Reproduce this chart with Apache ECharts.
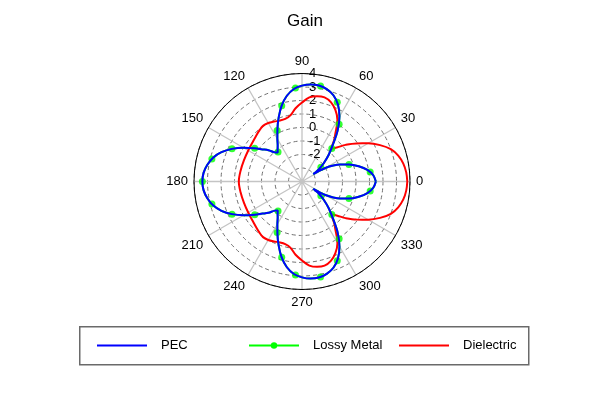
<!DOCTYPE html>
<html>
<head>
<meta charset="utf-8">
<script src="https://cdn.jsdelivr.net/npm/echarts@6/dist/echarts.min.js"></script>
<style>
  html, body { margin: 0; padding: 0; background: #fff; }
  #chart { width: 610px; height: 405px; }
</style>
</head>
<body>
<div id="chart"></div>
<script>
// angle in degrees, gain in dB
var pecAngle = [0, 5, 10, 15, 20, 24, 27, 30, 32, 33, 34, 36, 40, 45, 50, 55, 60, 65, 70, 75, 80, 85, 90,
    95, 100, 105, 110, 115, 120, 124, 127, 130, 133, 137, 141, 145, 150, 155, 160, 165, 170, 175, 180,
    185, 190, 195, 200, 205, 210, 215, 219, 223, 227, 230, 233, 236, 240, 245, 250, 255, 260, 265, 270,
    275, 280, 285, 290, 295, 300, 305, 310, 315, 320, 324, 326, 327, 328, 330, 333, 336, 340, 345, 350, 355, 360];
var pecGain = [1.47, 1.3, 0.92, 0.35, -0.3, -0.9, -1.4, -2.0, -2.6, -3.0, -2.85, -2.45, -1.9, -1.2, -0.45, 0.6, 1.55, 2.3, 2.8, 3.08, 3.22, 3.22, 3.1,
    2.88, 2.45, 1.82, 1.05, 0.3, -0.35, -0.78, -1.0, -1.2, -1.05, -0.6, -0.22, 0.28, 1.0, 1.72, 2.35, 2.82, 3.12, 3.32, 3.38,
    3.32, 3.12, 2.82, 2.35, 1.72, 1.0, 0.28, -0.22, -0.6, -1.05, -1.2, -1.0, -0.78, -0.35, 0.3, 1.05, 1.82, 2.45, 2.88, 3.1,
    3.22, 3.22, 3.08, 2.8, 2.3, 1.55, 0.6, -0.45, -1.2, -1.9, -2.45, -2.85, -3.0, -2.6, -2.0, -1.4, -0.9, -0.3, 0.35, 0.92, 1.3, 1.47];

// lossy metal: same trace as PEC, markers where they show
var lossyAngle = [8, 20, 37, 48, 57, 66, 79, 94, 105, 116, 129, 145, 155, 166, 180,
    194, 205, 215, 231, 244, 255, 266, 281, 294, 303, 312, 323, 340, 352];
var lossyGain = [1.1, -0.3, -2.25, -0.7, 1.05, 2.42, 3.2, 2.95, 1.8, 0.2, -1.18, 0.28, 1.72, 2.88, 3.38,
    2.88, 1.72, 0.28, -1.18, 0.2, 1.8, 2.95, 3.2, 2.42, 1.05, -0.7, -2.25, -0.3, 1.1];

var dielAngle = [0, 5, 10, 15, 20, 25, 30, 35, 40, 44, 48.5, 52, 55, 60, 65, 70, 75, 80, 85, 90, 95, 100,
    105, 110, 115, 120, 125, 130, 135, 140, 150, 160, 170, 180,
    190, 200, 210, 220, 225, 230, 235, 240, 245, 250, 255, 260, 265, 270, 275, 280, 285, 290, 295, 300,
    305, 308, 311.5, 316, 320, 325, 330, 335, 340, 345, 350, 355, 360];
var dielGain = [3.8, 3.75, 3.62, 3.38, 3.0, 2.38, 1.65, 0.92, 0.22, -0.35, -0.8, -0.15, 0.3, 1.25, 1.85, 2.25, 2.45, 2.42, 2.25, 1.85, 1.45, 0.97,
    0.8, 0.8, 0.9, 1.0, 1.03, 0.92, 0.8, 0.7, 0.6, 0.58, 0.62, 0.68,
    0.62, 0.58, 0.6, 0.7, 0.8, 0.92, 1.03, 1.0, 0.9, 0.8, 0.8, 0.97, 1.45, 1.85, 2.25, 2.42, 2.45, 2.25, 1.85, 1.25,
    0.3, -0.15, -0.8, -0.35, 0.22, 0.92, 1.65, 2.38, 3.0, 3.38, 3.62, 3.75, 3.8];

function pairs(angles, gains) {
    var out = [];
    for (var i = 0; i < angles.length; i++) {
        out.push([gains[i], angles[i]]);
    }
    return out;
}

var font = 'Liberation Sans, Arial, sans-serif';
var legendText = { fontFamily: font, fontSize: 13, color: '#000', padding: [0, 0, 0, 9] };
var chart = echarts.init(document.getElementById('chart'));

var option = {
    animation: false,
    backgroundColor: '#fff',
    title: {
        text: 'Gain',
        left: 'center',
        top: 8,
        textStyle: { fontFamily: font, fontSize: 17, fontWeight: 'normal', color: '#000' }
    },
    polar: {
        center: [302, 181.5],
        radius: 108
    },
    angleAxis: {
        type: 'value',
        min: 90,
        max: 450,
        interval: 30,
        startAngle: 90,
        clockwise: false,
        axisLine: { lineStyle: { color: '#000', width: 1 } },
        axisTick: { show: false },
        axisLabel: {
            margin: 6,
            color: '#000',
            fontFamily: font,
            fontSize: 13,
            formatter: function (v) { return v >= 450 ? '' : String(v % 360); }
        },
        splitLine: { lineStyle: { color: '#c4c4c4', width: 1.3 } }
    },
    radiusAxis: {
        type: 'value',
        min: -4,
        max: 4,
        interval: 1,
        axisLine: { show: false },
        axisTick: { show: false },
        axisLabel: {
            margin: -7,
            align: 'left',
            padding: [4, 0, 0, 0],
            color: '#000',
            fontFamily: font,
            fontSize: 13,
            formatter: function (v) { return v < -2 ? '' : String(v); }
        },
        splitLine: { lineStyle: { color: '#707070', type: [4, 3], width: 1 } }
    },
    legend: [
        { data: ['PEC'], left: 97, top: 339, padding: 0, icon: 'rect', itemWidth: 50, itemHeight: 2, textStyle: legendText },
        { data: ['Lossy Metal'], left: 248, top: 339, padding: 0, itemWidth: 50, itemHeight: 8, textStyle: legendText },
        { data: ['Dielectric'], left: 399, top: 339, padding: 0, icon: 'rect', itemWidth: 50, itemHeight: 2, textStyle: legendText }
    ],
    graphic: [{
        type: 'rect',
        left: 79,
        top: 326,
        shape: { width: 449, height: 38 },
        style: { fill: '#fff', stroke: '#6a6a6a', lineWidth: 1.5 },
        z: -1
    }],
    series: [
        {
            name: 'Dielectric',
            type: 'line',
            coordinateSystem: 'polar',
            data: pairs(dielAngle, dielGain),
            symbol: 'none',
            smooth: 0.35,
            color: '#ff0000',
            lineStyle: { width: 2 },
            z: 2
        },
        {
            name: 'Lossy Metal',
            type: 'line',
            coordinateSystem: 'polar',
            data: pairs(pecAngle, pecGain),
            symbol: 'circle',
            showSymbol: false,
            smooth: 0.35,
            color: '#00ff00',
            lineStyle: { width: 2 },
            z: 3
        },
        {
            name: 'Lossy Metal',
            type: 'scatter',
            coordinateSystem: 'polar',
            data: pairs(lossyAngle, lossyGain),
            symbol: 'circle',
            symbolSize: 7,
            color: '#00ff00',
            z: 3
        },
        {
            name: 'PEC',
            type: 'line',
            coordinateSystem: 'polar',
            data: pairs(pecAngle, pecGain),
            symbol: 'none',
            smooth: 0.35,
            color: '#0000ff',
            lineStyle: { width: 2 },
            z: 4
        }
    ]
};

chart.setOption(option);
</script>
</body>
</html>
